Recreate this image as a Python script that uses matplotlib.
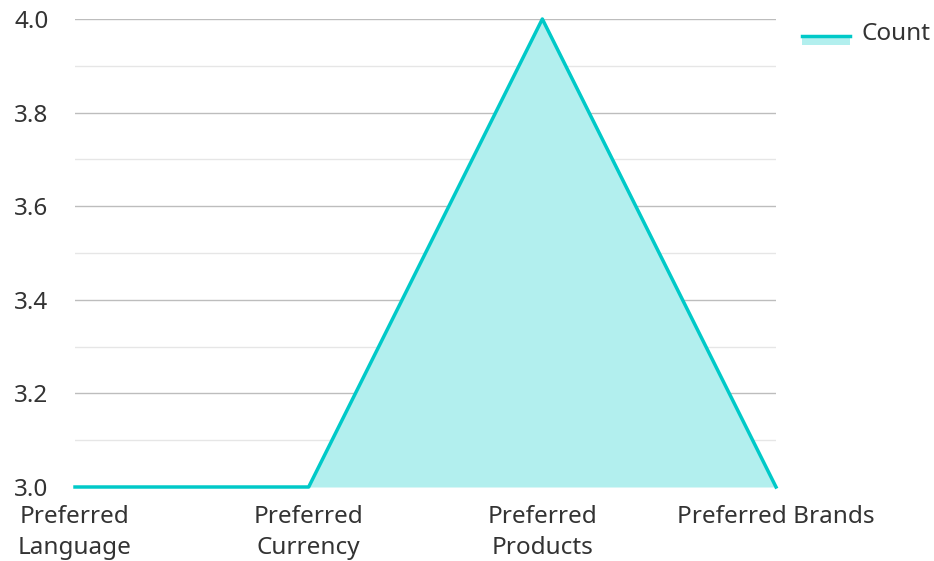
import matplotlib
matplotlib.use("Agg")
import matplotlib.pyplot as plt
from matplotlib.legend_handler import HandlerBase
from matplotlib.patches import Rectangle
from matplotlib.lines import Line2D
from matplotlib.ticker import MultipleLocator

# data
categories = ["Preferred\nLanguage", "Preferred\nCurrency", "Preferred\nProducts", "Preferred Brands"]
counts = [3, 3, 4, 3]
series_name = "Count"

LINE_COLOR = "#00C9C8"
FILL_COLOR = "#B2EFEE"
TEXT_COLOR = "#333333"

plt.rcParams["font.family"] = ["Noto Sans", "DejaVu Sans"]


class AreaHandler(HandlerBase):
    # legend swatch: filled box with the line along its top edge
    def create_artists(self, legend, orig_handle, xdescent, ydescent,
                       width, height, fontsize, trans):
        y0 = -ydescent - 0.3 * height
        h = 0.52 * height
        rect = Rectangle((-xdescent, y0), width, h,
                         facecolor=FILL_COLOR, edgecolor="none", transform=trans)
        line = Line2D([-xdescent, -xdescent + width], [y0 + h, y0 + h],
                      color=LINE_COLOR, linewidth=2.5, transform=trans)
        return [rect, line]


fig = plt.figure(figsize=(9.34, 5.61), dpi=100)
ax = fig.add_axes([75 / 934, 1 - 487 / 561, (776 - 75) / 934, (487 - 19) / 561])

x = list(range(len(categories)))
ax.fill_between(x, counts, 3.0, color=FILL_COLOR, linewidth=0, zorder=2)
line, = ax.plot(x, counts, color=LINE_COLOR, linewidth=2.5, zorder=3, clip_on=False)

ax.set_xlim(0, len(categories) - 1)
ax.set_ylim(3.0, 4.0)
ax.yaxis.set_major_locator(MultipleLocator(0.2))
ax.yaxis.set_minor_locator(MultipleLocator(0.1))
ax.grid(axis="y", which="major", color="#BDBDBD", linewidth=1, zorder=0)
ax.grid(axis="y", which="minor", color="#E6E6E6", linewidth=1, zorder=0)
ax.set_xticks(x)
ax.set_xticklabels(categories, linespacing=1.4)
ax.yaxis.set_major_formatter(plt.FuncFormatter(lambda v, p: f"{v:.1f}"))

for s in ax.spines.values():
    s.set_visible(False)
ax.tick_params(axis="both", which="both", length=0, labelsize=17.5, colors=TEXT_COLOR)
ax.tick_params(axis="x", pad=13)
ax.tick_params(axis="y", pad=19)

fig.legend([line], [series_name], handler_map={Line2D: AreaHandler()},
           loc="upper left", bbox_to_anchor=(780 / 934, 1.0),
           frameon=False, fontsize=17.5, handlelength=2.0, handletextpad=0.45,
           labelcolor=TEXT_COLOR)

fig.savefig("out.png", dpi=100)
